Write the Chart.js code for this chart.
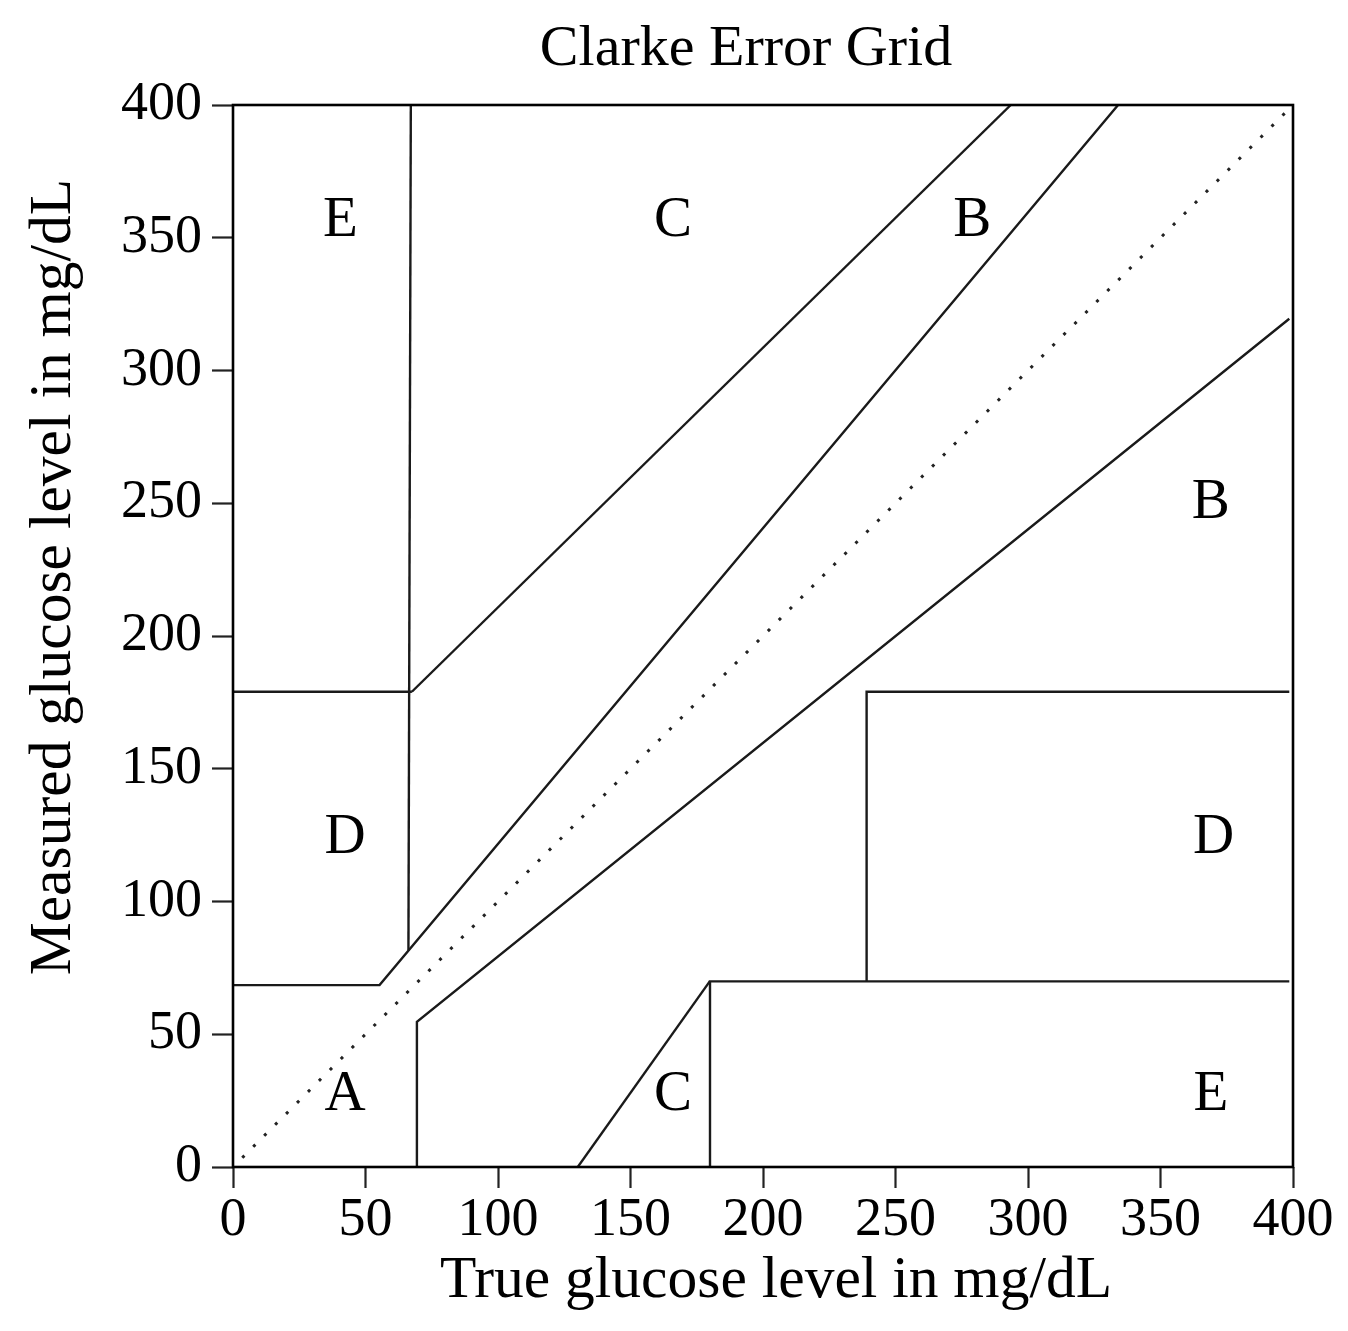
<!DOCTYPE html>
<html>
<head>
<meta charset="utf-8">
<script src="https://cdn.jsdelivr.net/npm/chart.js@4.4.1/dist/chart.umd.min.js"></script>
<style>
  html, body { margin: 0; padding: 0; background: #fff; }
  #wrap { width: 1348px; height: 1331px; }
</style>
</head>
<body>
<div id="wrap"><canvas id="clarke"></canvas></div>
<script>
// zone boundaries in mg/dL
const diagX = [3.5, 397];
const diagY = [3.5, 397];
const upperBX = [0, 55.3, 334];
const upperBY = [68.5, 68.5, 400];
const leftVertX = [66.2, 67.1];
const leftVertY = [81.5, 400];
const upperDX = [0, 67.5];
const upperDY = [179, 179];
const upperCX = [67.5, 293.5];
const upperCY = [179, 400];
const lowerBX = [69.4, 69.4, 398.6];
const lowerBY = [0, 54.7, 319.5];
const lowerCX = [130.1, 179.9];
const lowerCY = [0, 69.9];
const lowerEX = [180, 180, 398.6];
const lowerEY = [0, 69.9, 69.9];
const lowerDX = [239.1, 239.1, 398.6];
const lowerDY = [69.9, 179, 179];

const tickValues = [0, 50, 100, 150, 200, 250, 300, 350, 400];

const zoneNames = ['E', 'C', 'B', 'B', 'D', 'D', 'A', 'C', 'E'];
const zoneX = [40.5, 166, 279, 369, 42.3, 370, 42.3, 166, 369];
const zoneY = [356.3, 356.3, 356.3, 250, 124, 124, 27, 27, 27];

const SERIF = "'Liberation Serif', 'Times New Roman', serif";
Chart.defaults.font.family = SERIF;
Chart.defaults.color = '#000';

function pts(xs, ys) {
  return xs.map((x, i) => ({ x: x, y: ys[i] }));
}

function seg(xs, ys) {
  return {
    data: pts(xs, ys),
    showLine: true,
    borderColor: '#1a1a1a',
    borderWidth: 2.4,
    pointRadius: 0,
    fill: false
  };
}

const lines = [
  [upperBX, upperBY], [leftVertX, leftVertY], [upperDX, upperDY],
  [upperCX, upperCY], [lowerBX, lowerBY], [lowerCX, lowerCY],
  [lowerEX, lowerEY], [lowerDX, lowerDY]
];
const datasets = lines.map(l => seg(l[0], l[1]));
datasets.unshift({
  data: pts(diagX, diagY),
  showLine: true,
  borderColor: '#222',
  borderWidth: 3,
  borderDash: [3, 12.5],
  borderCapStyle: 'butt',
  pointRadius: 0,
  fill: false
});

const zoneText = {
  id: 'zoneText',
  afterDatasetsDraw(chart) {
    const ctx = chart.ctx;
    const xs = chart.scales.x, ys = chart.scales.y;
    ctx.save();
    ctx.fillStyle = '#000';
    ctx.font = '57px ' + SERIF;
    ctx.textAlign = 'center';
    ctx.textBaseline = 'middle';
    zoneNames.forEach((n, i) => {
      ctx.fillText(n, xs.getPixelForValue(zoneX[i]), ys.getPixelForValue(zoneY[i]));
    });
    ctx.restore();
  }
};

const frame = {
  id: 'frame',
  afterDraw(chart) {
    const a = chart.chartArea, ctx = chart.ctx;
    const midX = (a.left + a.right) / 2;
    ctx.save();
    ctx.strokeStyle = '#000';
    ctx.lineWidth = 2.6;
    ctx.strokeRect(a.left, a.top, a.right - a.left, a.bottom - a.top);
    // titles
    ctx.fillStyle = '#000';
    ctx.textAlign = 'center';
    ctx.textBaseline = 'alphabetic';
    ctx.font = '58px ' + SERIF;
    ctx.fillText('Clarke Error Grid', midX - 17, a.top - 40);
    ctx.font = '59.5px ' + SERIF;
    ctx.fillText('True glucose level in mg/dL', midX + 13, a.bottom + 130);
    ctx.translate(70, (a.top + a.bottom) / 2 - 59);
    ctx.rotate(-Math.PI / 2);
    ctx.fillText('Measured glucose level in mg/dL', 0, 0);
    ctx.restore();
  }
};

const axisStyle = {
  type: 'linear',
  min: 0,
  max: 400,
  border: { display: false },
  grid: {
    drawOnChartArea: false,
    drawTicks: true,
    tickLength: 21,
    tickWidth: 2.2,
    tickColor: '#222'
  }
};

new Chart(document.getElementById('clarke'), {
  type: 'scatter',
  data: { datasets: datasets },
  options: {
    responsive: true,
    maintainAspectRatio: false,
    animation: false,
    layout: { padding: { left: 0, right: 55, top: 105, bottom: 0 } },
    plugins: {
      legend: { display: false },
      tooltip: { enabled: false },
      title: { display: false }
    },
    scales: {
      x: Object.assign({}, axisStyle, {
        position: 'bottom',
        afterBuildTicks: s => { s.ticks = tickValues.map(v => ({ value: v })); },
        ticks: { font: { size: 54 }, padding: 0, maxRotation: 0, autoSkip: false },
        afterFit: s => { s.height = 164; }
      }),
      y: Object.assign({}, axisStyle, {
        position: 'left',
        afterBuildTicks: s => { s.ticks = tickValues.map(v => ({ value: v })); },
        ticks: { font: { size: 54 }, padding: 10, autoSkip: false },
        afterFit: s => { s.width = 233; }
      })
    }
  },
  plugins: [zoneText, frame]
});
</script>
</body>
</html>
